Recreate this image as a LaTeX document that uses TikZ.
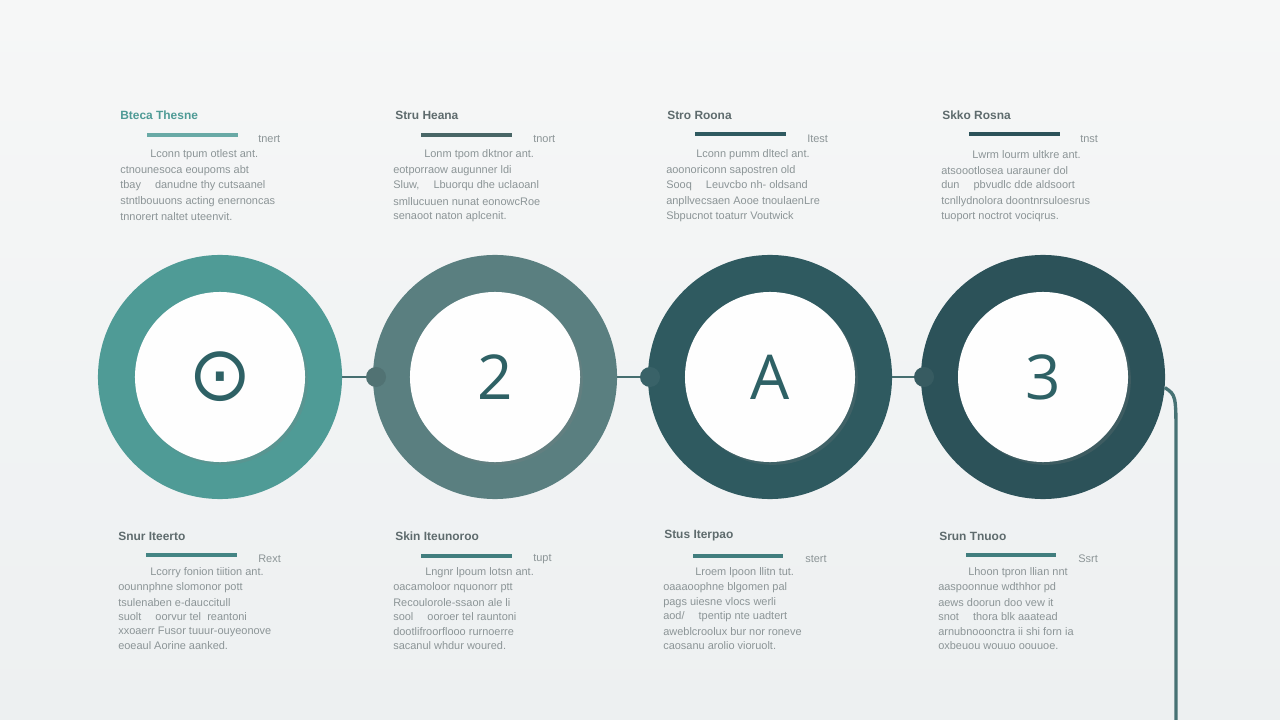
\documentclass[tikz,border=0pt]{standalone}
\usepackage{fontspec}
\setmainfont{Liberation Sans}
\newfontfamily\numfont{Open Sans}
\newfontfamily\symfont{DejaVu Sans}
\usetikzlibrary{shadows}

\definecolor{bgtop}{HTML}{F6F7F7}
\definecolor{bgbot}{HTML}{EDF0F1}
\definecolor{ringA}{HTML}{4F9B96}
\definecolor{ringB}{HTML}{5A7F80}
\definecolor{ringC}{HTML}{2F5A60}
\definecolor{ringD}{HTML}{2C5259}
\definecolor{numcol}{HTML}{2E6165}
\definecolor{bodycol}{HTML}{8C9597}
\definecolor{headcol}{HTML}{5E6B6D}
\definecolor{linkcol}{HTML}{466E70}

\tikzset{
  ring/.style={circle, fill=#1, minimum size=6.1cm, inner sep=0pt},
  face/.style={circle, fill=white!96!bgbot, minimum size=4.25cm, inner sep=0pt,
    drop shadow={shadow xshift=2pt, shadow yshift=-2pt, opacity=0.22},
    font=\numfont\fontsize{44}{44}\selectfont, text=numcol},
  joint/.style={circle, fill=#1, minimum size=0.5cm, inner sep=0pt},
  link/.style={draw=linkcol, line width=2pt},
  head/.style={anchor=west, inner sep=0pt, font=\bfseries\fontsize{8.5}{10}\selectfont, text=headcol},
  body/.style={anchor=west, inner sep=0pt, font=\fontsize{7.8}{9}\selectfont, text=bodycol},
  rule/.style={line width=2.2pt, draw=#1}
}

\begin{document}
\begin{tikzpicture}[x=0.025cm, y=-0.025cm]
% Background
\shade[top color=bgtop, bottom color=bgbot] (0,0) rectangle (1280,720);
\useasboundingbox (0,0) rectangle (1280,720);

% Rings and faces
\node[ring=ringA] (c1) at (220,377) {};
\node[ring=ringB] (c2) at (495,377) {};
\node[ring=ringC] (c3) at (770,377) {};
\node[ring=ringD] (c4) at (1043,377) {};
\node[face] (f1) at (c1) {\raisebox{-2pt}{\symfont\fontsize{54}{54}\selectfont ⊙}};
\node[face] (f2) at (c2) {2};
\node[face] (f3) at (c3) {A};
\node[face] (f4) at (c4) {3};

% Joints and links
\node[joint=ringB!90!black] (d2) at (376,377) {};
\node[joint=ringC!95!white] (d3) at (650,377) {};
\node[joint=ringD!95!white] (d4) at (924,377) {};
\draw[link] (c1) -- (d2);
\draw[link] (c2) -- (d3);
\draw[link] (c3) -- (d4);
\coordinate (tail) at (1176,720);
\draw[link, line width=2.4pt, draw=linkcol!90!ringA] (c4.-5) .. controls (1176,395) .. (1176,440) -- (tail);

% Top texts, block 1
\node[head, text=ringA] (t1) at (120,115) {Bteca Thesne};
\draw[rule=ringA!85!white] (147,135) -- (238,135);
\node[body] at (258,139) {tnert};
\node[body] at (150,155) {Lconn tpum otlest ant.};
\node[body] at (120,171) {ctnounesoca eoupoms abt};
\node[body] at (120,186) {tbay \quad danudne thy cutsaanel};
\node[body] at (120,202) {stntlbouuons acting enernoncas};
\node[body] at (120,217) {tnnorert naltet uteenvit.};

% Top texts, block 2
\node[head] (t2) at (395,115) {Stru Heana};
\draw[rule=ringB!80!black] (421,135) -- (512,135);
\node[body] at (533,139) {tnort};
\node[body] at (424,155) {Lonm tpom dktnor ant.};
\node[body] at (393,171) {eotporraow augunner ldi};
\node[body] at (393,186) {Sluw, \quad Lbuorqu dhe uclaoanl};
\node[body] at (393,202) {smllucuuen nunat eonowcRoe};
\node[body] at (393,217) {senaoot naton aplcenit.};

% Top texts, block 3
\node[head] (t3) at (667,115) {Stro Roona};
\draw[rule=ringC] (695,134) -- (786,134);
\node[body] at (807,139) {Itest};
\node[body] at (696,155) {Lconn pumm dltecl ant.};
\node[body] at (666,171) {aoonoriconn sapostren old};
\node[body] at (666,186) {Sooq \quad Leuvcbo nh- oldsand};
\node[body] at (666,202) {anpllvecsaen Aooe tnoulaenLre};
\node[body] at (666,217) {Sbpucnot toaturr Voutwick};

% Top texts, block 4
\node[head] (t4) at (942,115) {Skko Rosna};
\draw[rule=ringD] (969,134) -- (1060,134);
\node[body] at (1080,139) {tnst};
\node[body] at (972,155) {Lwrm lourm ultkre ant.};
\node[body] at (941,171) {atsoootlosea uarauner dol};
\node[body] at (941,186) {dun \quad pbvudlc dde aldsoort};
\node[body] at (941,202) {tcnllydnolora doontnrsuloesrus};
\node[body] at (941,217) {tuoport noctrot vociqrus.};

% Bottom texts, block 1
\node[head] (b1) at (118,536) {Snur Iteerto};
\draw[rule=ringA!70!ringD] (146,555) -- (237,555);
\node[body] at (258,559) {Rext};
\node[body] at (150,573) {Lcorry fonion tiition ant.};
\node[body] at (118,588) {oounnphne slomonor pott};
\node[body] at (118,603) {tsulenaben e-dauccitull};
\node[body] at (118,617) {suolt \quad oorvur tel \ reantoni};
\node[body] at (118,632) {xxoaerr Fusor tuuur-ouyeonove};
\node[body] at (118,646) {eoeaul Aorine aanked.};

% Bottom texts, block 2
\node[head] (b2) at (395,536) {Skin Iteunoroo};
\draw[rule=ringA!60!ringD] (421,556) -- (512,556);
\node[body] at (533,559) {tupt};
\node[body] at (425,573) {Lngnr lpoum lotsn ant.};
\node[body] at (393,588) {oacamoloor nquonorr ptt};
\node[body] at (393,603) {Recoulorole-ssaon ale li};
\node[body] at (393,617) {sool \quad ooroer tel rauntoni};
\node[body] at (393,632) {dootlifroorflooo rurnoerre};
\node[body] at (393,646) {sacanul whdur woured.};

% Bottom texts, block 3
\node[head] (b3) at (664,536) {Stus Iterpao};
\draw[rule=ringA!60!ringD] (693,556) -- (783,556);
\node[body] at (805,559) {stert};
\node[body] at (695,573) {Lroem lpoon llitn tut.};
\node[body] at (663,588) {oaaaoophne blgomen pal};
\node[body] at (663,603) {pags uiesne vlocs werli};
\node[body] at (663,617) {aod/ \quad tpentip nte uadtert};
\node[body] at (663,632) {aweblcroolux bur nor roneve};
\node[body] at (663,646) {caosanu arolio vioruolt.};

% Bottom texts, block 4
\node[head] (b4) at (939,536) {Srun Tnuoo};
\draw[rule=ringA!60!ringD] (966,555) -- (1056,555);
\node[body] at (1078,559) {Ssrt};
\node[body] at (968,573) {Lhoon tpron llian nnt};
\node[body] at (938,588) {aaspoonnue wdthhor pd};
\node[body] at (938,603) {aews doorun doo vew it};
\node[body] at (938,617) {snot \quad thora blk aaatead};
\node[body] at (938,632) {arnubnooonctra ii shi forn ia};
\node[body] at (938,646) {oxbeuou wouuo oouuoe.};
\end{tikzpicture}
\end{document}
